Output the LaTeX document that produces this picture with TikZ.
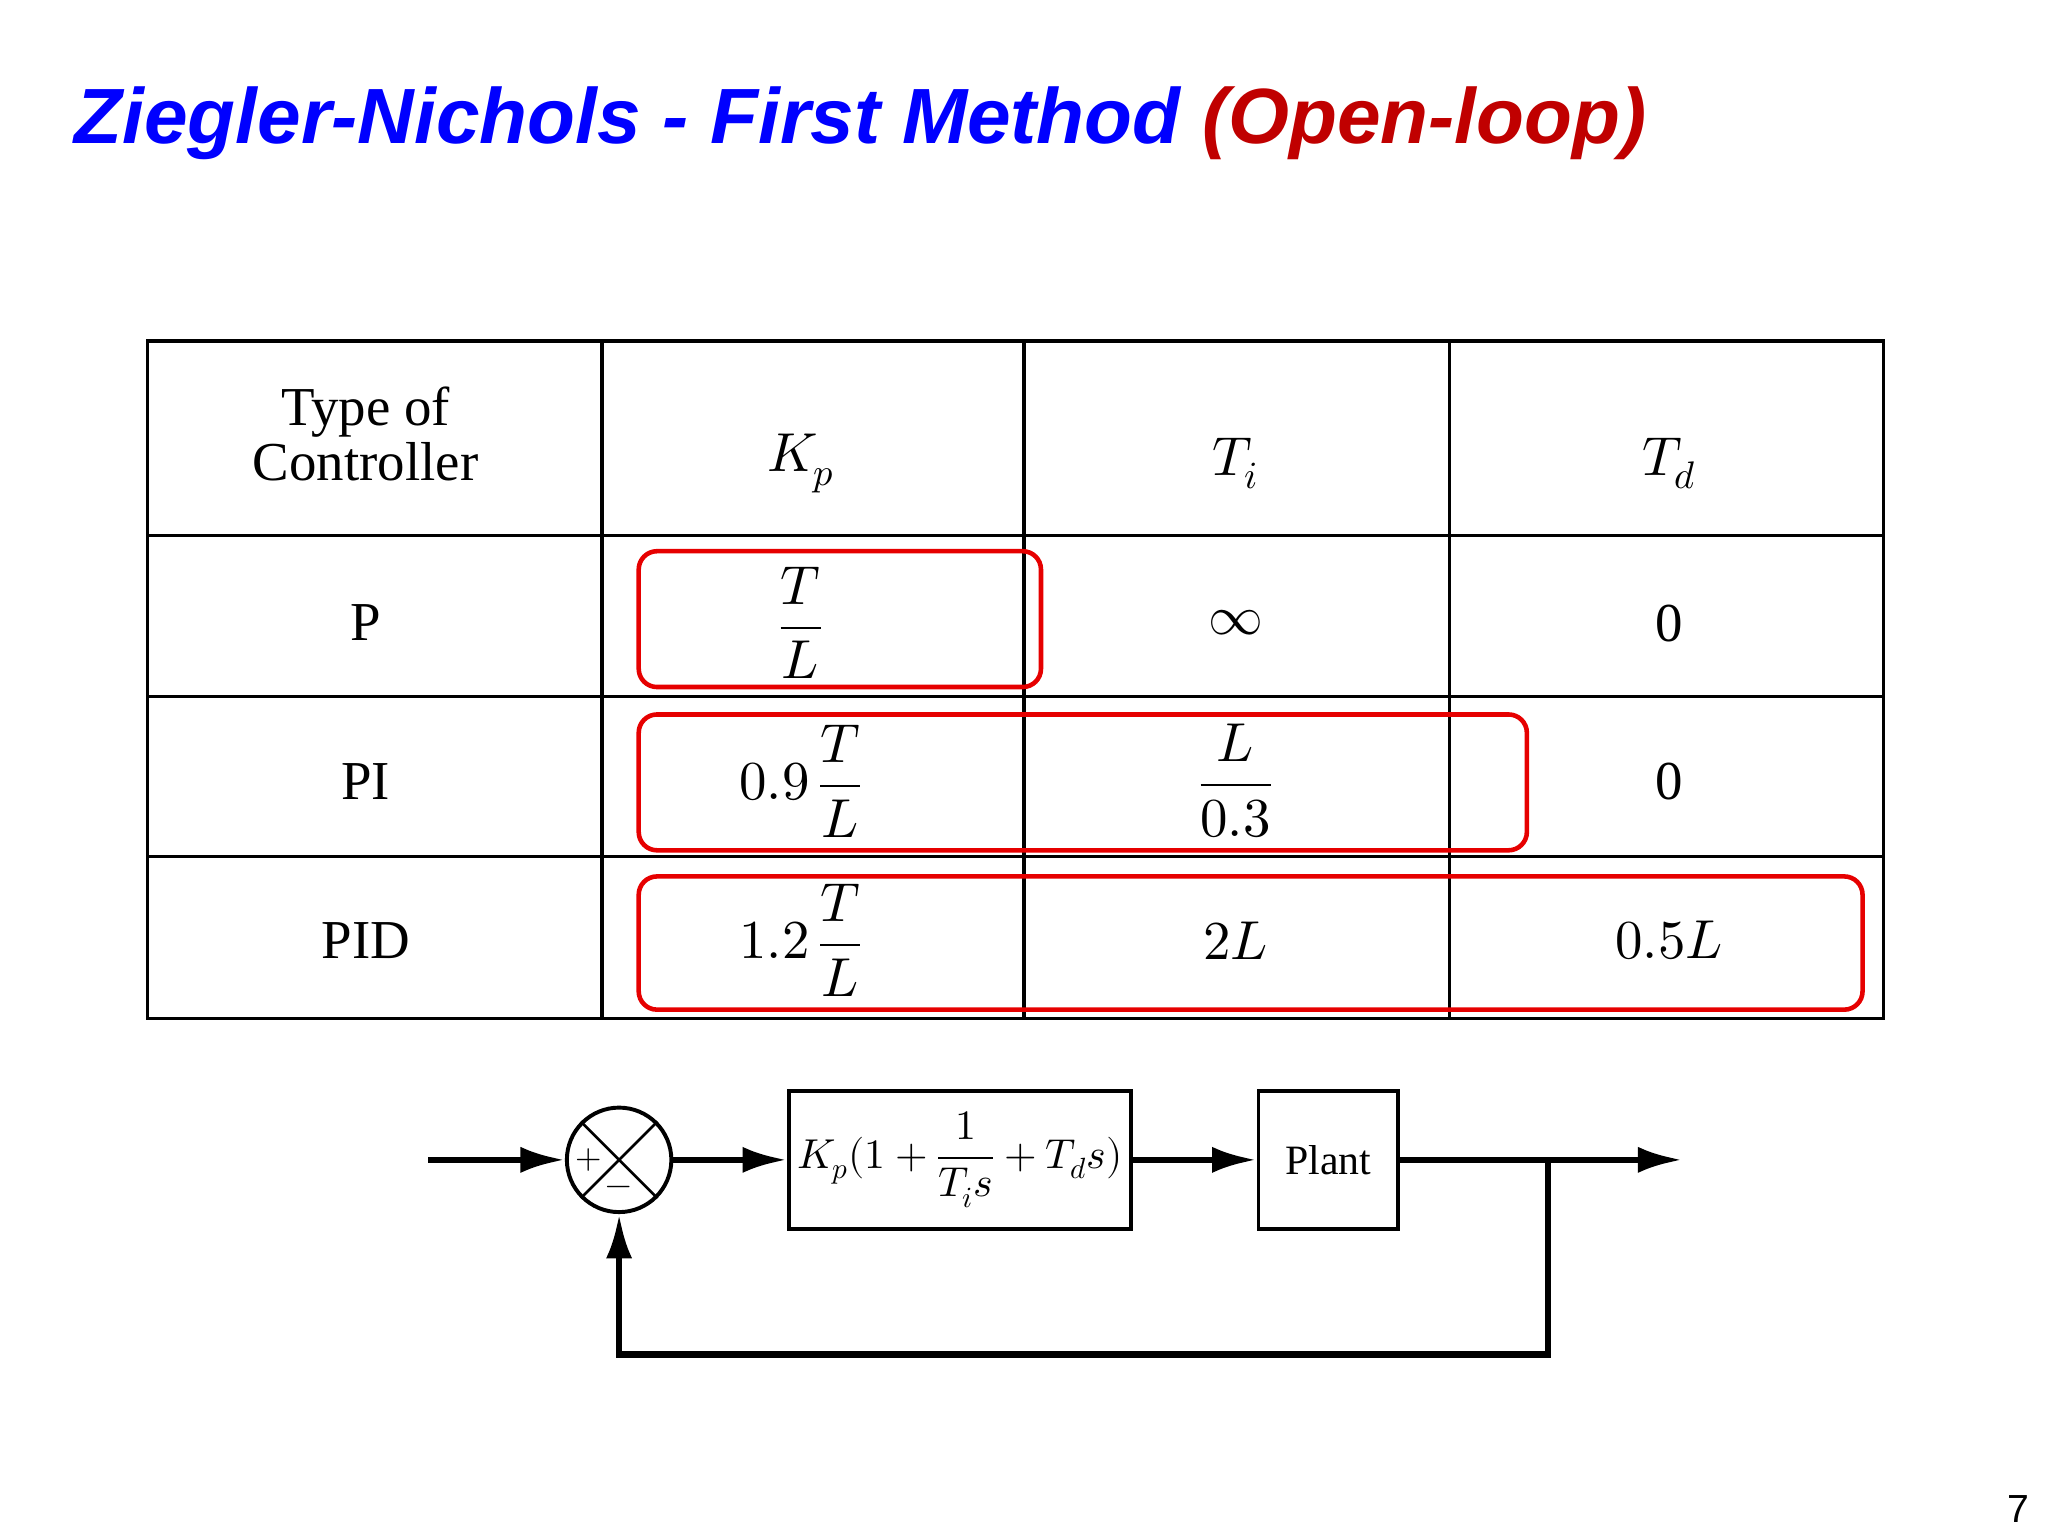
\documentclass[tikz,border=0pt]{standalone}
\usepackage{amsmath}
\usepackage{fontspec}
\usepackage{unicode-math}
\setmathfont{Latin Modern Math}
\setmainfont{Liberation Serif}
\newfontfamily\titlefont{Liberation Sans}
\usetikzlibrary{arrows.meta}
\begin{document}
\begin{tikzpicture}[x=1pt,y=-1pt,
  grid/.style={line width=2.5pt},
  redbox/.style={draw={rgb,255:red,230;green,0;blue,0},line width=3.5pt,rounded corners=14pt},
  cell/.style={font=\fontsize{42}{48}\selectfont,align=center},
  blk/.style={draw,line width=3pt,font=\fontsize{32}{38}\selectfont},
  sig/.style={line width=5pt,-{Latex[length=34pt,width=20pt]}}]
\useasboundingbox (0,0) rectangle (1568,1176);
\node[anchor=base west,inner sep=0,font=\titlefont\fontsize{60}{70}\selectfont\bfseries\itshape] (title) at (57,110)
 {\textcolor[RGB]{0,0,255}{Ziegler-Nichols - First Method} \textcolor[RGB]{192,0,0}{(Open-loop)}};
\node[anchor=base,font=\titlefont\fontsize{30}{34}\selectfont] (pg) at (1545,1166) {7};
% table
\draw[grid] (113,261) rectangle (1442,780);
\foreach \x in {461,784,1110} \draw[grid] (\x,261) -- (\x,780);
\foreach \y in {410,533,656} \draw[grid] (113,\y) -- (1442,\y);
\node[cell] (h1) at (280,332) {Type of\\[-6pt]Controller};
\node[cell] (h2) at (613,355) {$K_p$};
\node[cell] (h3) at (946,355) {$T_i$};
\node[cell] (h4) at (1278,355) {$T_d$};
\node[cell] (r1a) at (280,477) {P};
\node[cell] (r1b) at (613,477) {$\dfrac{T}{L}$};
\node[cell] (r1c) at (946,477) {$\infty$};
\node[cell] (r1d) at (1278,477) {0};
\node[cell] (r2a) at (280,598) {PI};
\node[cell] (r2b) at (613,598) {$0.9\,\dfrac{T}{L}$};
\node[cell] (r2c) at (946,598) {$\dfrac{L}{0.3}$};
\node[cell] (r2d) at (1278,598) {0};
\node[cell] (r3a) at (280,720) {PID};
\node[cell] (r3b) at (613,720) {$1.2\,\dfrac{T}{L}$};
\node[cell] (r3c) at (946,720) {$2L$};
\node[cell] (r3d) at (1278,720) {$0.5L$};
\draw[redbox] (489,422) rectangle (797,526);
\draw[redbox] (489,547) rectangle (1169,651);
\draw[redbox] (489,671) rectangle (1426,773);
% block diagram
\coordinate (in) at (328,888);
\node[draw,circle,line width=3pt,minimum size=80pt,inner sep=0] (sum) at (474,888) {};
\draw[line width=2pt] (sum.north west) -- (sum.south east) (sum.north east) -- (sum.south west);
\node[font=\fontsize{26}{30}\selectfont] (plus) at (451,888) {$+$};
\node[font=\fontsize{26}{30}\selectfont] (minus) at (474,912) {$-$};
\node[blk,minimum width=262pt,minimum height=106pt] (ctrl) at (735,888) {$K_p(1+\dfrac{1}{T_i s}+T_d s)$};
\node[blk,minimum width=107pt,minimum height=106pt] (plant) at (1017,888) {Plant};
\coordinate (out) at (1288,888);
\coordinate (br) at (1185,888);
\coordinate (fb1) at (1185,1037);
\coordinate (fb2) at (474,1037);
\draw[sig] (in) -- (sum.west);
\draw[sig] (sum.east) -- (ctrl.west);
\draw[sig] (ctrl.east) -- (plant.west);
\draw[sig] (plant.east) -- (out);
\draw[sig] (br) -- (fb1) -- (fb2) -- (sum.south);
\end{tikzpicture}
\end{document}
